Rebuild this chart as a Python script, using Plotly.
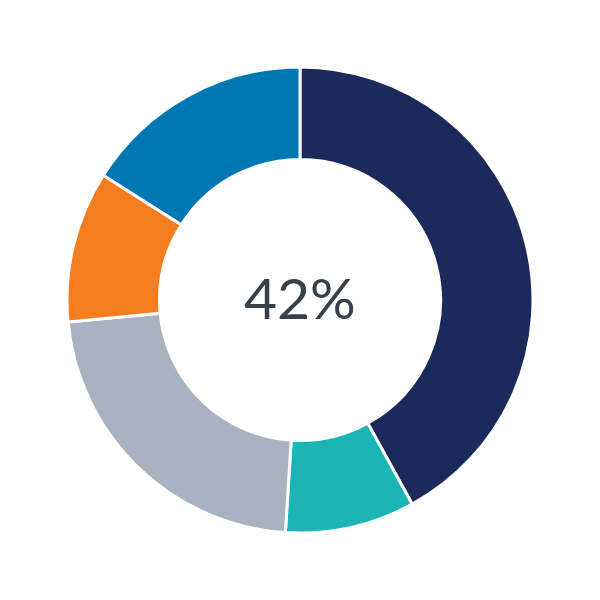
import plotly.graph_objects as go

labels = ["A", "B", "C", "D", "E"]
values = [42, 9, 22.5, 10.5, 16]
colors = ["#1b2a5a", "#1bb5b6", "#a8b3c2", "#f47d20", "#0077b5"]
center_text = "42%"

cx, cy, r = 292, 292, 233  # pixel centre (from top-left) accounting for page margin

fig = go.Figure(go.Pie(
    labels=labels, values=values, hole=0.603, sort=False, direction="clockwise",
    rotation=0, textinfo="none", hoverinfo="label+percent",
    marker=dict(colors=colors, line=dict(color="white", width=3)),
    domain=dict(x=[(cx - r)/600, (cx + r)/600], y=[(600 - cy - r)/600, (600 - cy + r)/600]),
    showlegend=False,
))
fig.add_annotation(text=center_text, x=cx/600, y=(600 - cy + 3)/600, xref="paper", yref="paper",
                   showarrow=False, font=dict(family="Lato", size=57, color="#37414b"))
fig.update_layout(width=600, height=600, margin=dict(l=0, r=0, t=0, b=0),
                  paper_bgcolor="white", plot_bgcolor="white")
fig.write_html("out.html")
